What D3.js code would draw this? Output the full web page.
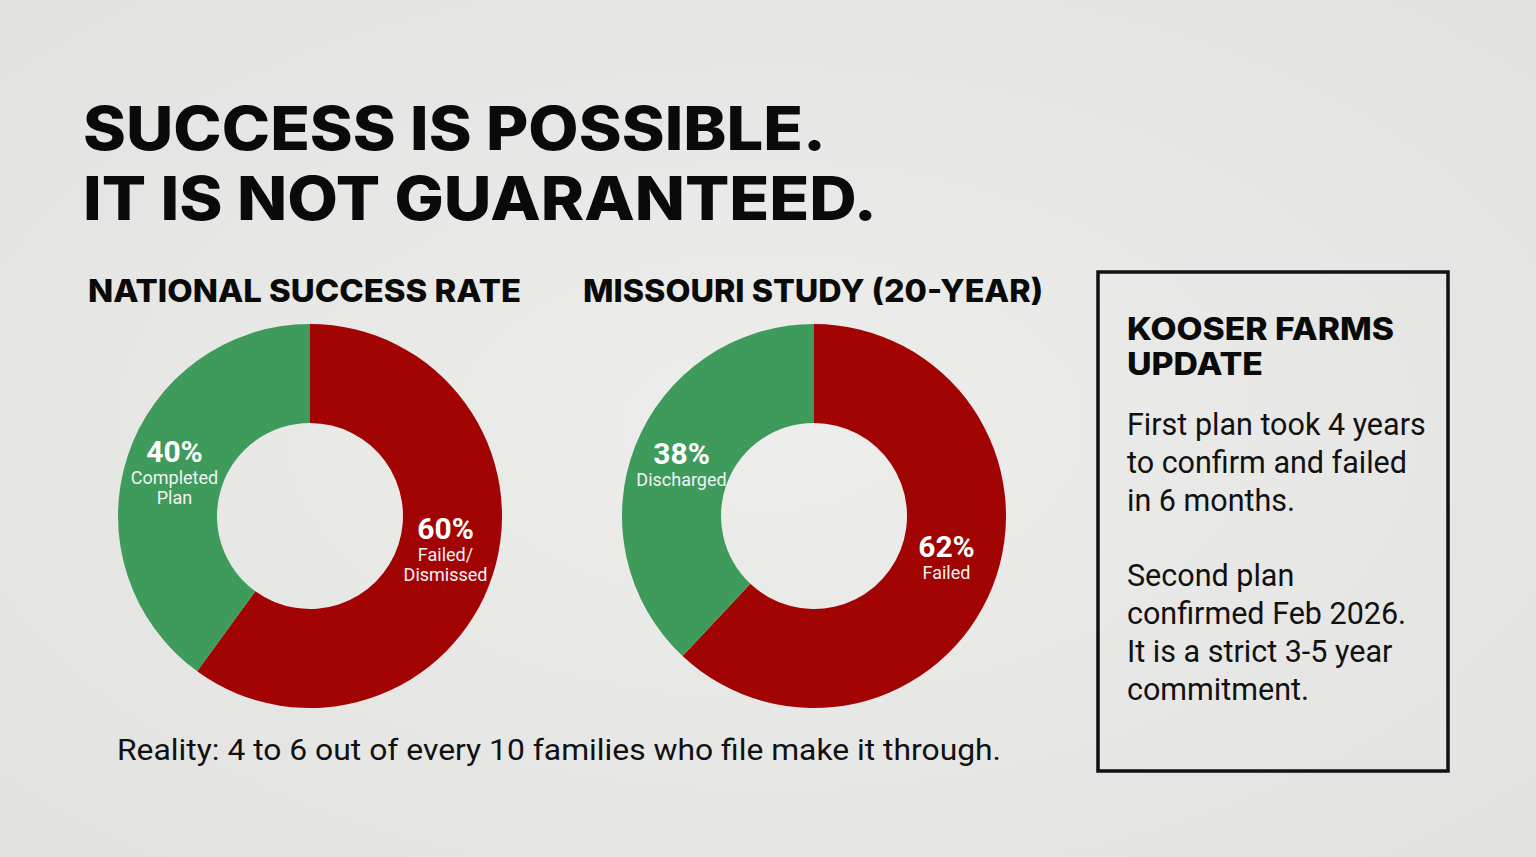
<!DOCTYPE html>
<html>
<head>
<meta charset="utf-8">
<script src="https://cdn.jsdelivr.net/npm/d3@7/dist/d3.min.js"></script>
<style>
  html, body { margin: 0; padding: 0; background: #e9e9e8; }
  svg { display: block; }
</style>
</head>
<body>
<svg id="chart" width="1536" height="857"></svg>
<script>
// data
const titleLines = ["SUCCESS IS POSSIBLE.", "IT IS NOT GUARANTEED."];
const chartTitles = ["NATIONAL SUCCESS RATE", "MISSOURI STUDY (20-YEAR)"];
const nationalValues = [60, 40];
const nationalLabels = [["Failed/", "Dismissed"], ["Completed", "Plan"]];
const missouriValues = [62, 38];
const missouriLabels = [["Failed"], ["Discharged"]];
const sliceColors = ["#a20303", "#3e9b5b"];
const boxTitle = ["KOOSER FARMS", "UPDATE"];
const boxLines = ["First plan took 4 years", "to confirm and failed", "in 6 months.", "",
  "Second plan", "confirmed Feb 2026.", "It is a strict 3-5 year", "commitment."];
const footnote = "Reality: 4 to 6 out of every 10 families who file make it through.";

const svg = d3.select('#chart')

// soft vignette background
const defs = svg.append('defs')
const grad = defs.append('radialGradient').attr('id', 'bg').attr('cx', '50%').attr('cy', '50%').attr('r', '75%')
grad.append('stop').attr('offset', '0%').attr('stop-color', '#ededec')
grad.append('stop').attr('offset', '100%').attr('stop-color', '#e1e1e0')
svg.append('rect').attr('width', 1536).attr('height', 857).attr('fill', 'url(#bg)')

const headFont = "Inter, 'Open Sans', sans-serif"
const bodyFont = "Roboto, 'Liberation Sans', sans-serif"

// main title
const titleWidths = [743, 794]
svg.selectAll('text.title')
  .data(titleLines)
  .enter()
  .append('text')
  .attr('class', 'title')
  .attr('x', 83)
  .attr('y', (d, i) => 150 + i * 70)
  .attr('font-family', headFont)
  .attr('font-weight', 800)
  .attr('font-size', 60)
  .attr('fill', '#0a0a0a')
  .attr('textLength', (d, i) => titleWidths[i])
  .attr('lengthAdjust', 'spacingAndGlyphs')
  .text(d => d)

// donuts
const donuts = [
  {title: chartTitles[0], values: nationalValues, labels: nationalLabels, cx: 310, tx: 88, tw: 433},
  {title: chartTitles[1], values: missouriValues, labels: missouriLabels, cx: 814, tx: 583, tw: 460}
]
const cy = 516
const pie = d3.pie().sort(null).value(d => d)
const arc = d3.arc().innerRadius(93).outerRadius(192)
const labelArc = d3.arc().innerRadius(135).outerRadius(150)
const labelShift = [-11, 0] // red labels sit a bit higher than the centroid

donuts.forEach(dn => {
  svg.append('text')
    .attr('x', dn.tx)
    .attr('y', 302)
    .attr('font-family', headFont)
    .attr('font-weight', 800)
    .attr('font-size', 31)
    .attr('fill', '#0a0a0a')
    .attr('textLength', dn.tw)
    .attr('lengthAdjust', 'spacingAndGlyphs')
    .text(dn.title)

  const g = svg.append('g').attr('transform', `translate(${dn.cx},${cy})`)
  const arcs = pie(dn.values)

  g.selectAll('path')
    .data(arcs)
    .enter()
    .append('path')
    .attr('d', arc)
    .attr('fill', (d, i) => sliceColors[i])

  arcs.forEach((a, i) => {
    const [lx, ly] = labelArc.centroid(a)
    const lines = dn.labels[i]
    const blockH = 28 + lines.length * 20
    const top = ly - blockH / 2 + labelShift[i]
    const lab = g.append('g').attr('transform', `translate(${lx},${top})`)
    lab.append('text')
      .attr('text-anchor', 'middle')
      .attr('y', 24)
      .attr('font-family', bodyFont)
      .attr('font-weight', 700)
      .attr('font-size', 30)
      .attr('fill', '#ffffff')
      .text(d3.format('d')(a.data) + '%')
    lab.selectAll('text.sub')
      .data(lines)
      .enter()
      .append('text')
      .attr('class', 'sub')
      .attr('text-anchor', 'middle')
      .attr('y', (d, j) => 46 + j * 20)
      .attr('font-family', bodyFont)
      .attr('font-size', 18)
      .attr('fill', '#f3f3f3')
      .text(d => d)
  })
})

// footnote
svg.append('text')
  .attr('x', 117)
  .attr('y', 760)
  .attr('font-family', bodyFont)
  .attr('font-size', 30)
  .attr('fill', '#111')
  .attr('textLength', 884)
  .attr('lengthAdjust', 'spacingAndGlyphs')
  .text(footnote)

// side box
svg.append('rect')
  .attr('x', 1098)
  .attr('y', 272)
  .attr('width', 350)
  .attr('height', 499)
  .attr('fill', 'none')
  .attr('stroke', '#111')
  .attr('stroke-width', 3.5)

const boxTitleWidths = [267, 136]
svg.selectAll('text.boxtitle')
  .data(boxTitle)
  .enter()
  .append('text')
  .attr('class', 'boxtitle')
  .attr('x', 1127)
  .attr('y', (d, i) => 340 + i * 35)
  .attr('font-family', headFont)
  .attr('font-weight', 800)
  .attr('font-size', 31)
  .attr('fill', '#0a0a0a')
  .attr('textLength', (d, i) => boxTitleWidths[i])
  .attr('lengthAdjust', 'spacingAndGlyphs')
  .text(d => d)

svg.selectAll('text.boxline')
  .data(boxLines)
  .enter()
  .append('text')
  .attr('class', 'boxline')
  .attr('x', 1127)
  .attr('y', (d, i) => 435 + i * 37.8)
  .attr('font-family', bodyFont)
  .attr('font-size', 30.5)
  .attr('fill', '#111')
  .text(d => d)
</script>
</body>
</html>
